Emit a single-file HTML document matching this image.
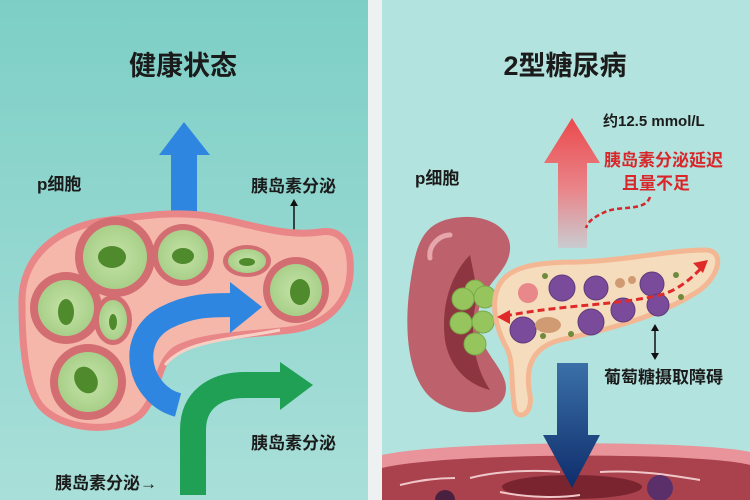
<!DOCTYPE html>
<html><head><meta charset="utf-8"><style>
html,body{margin:0;padding:0;width:750px;height:500px;overflow:hidden;background:#f0f3f3}
svg{display:block}
text{font-family:"Liberation Sans","Noto Sans CJK SC",sans-serif;font-weight:bold}
</style></head><body>
<svg width="750" height="500" viewBox="0 0 750 500" xmlns="http://www.w3.org/2000/svg">
<defs>
<linearGradient id="lbg" x1="0" y1="0" x2="0" y2="1"><stop offset="0" stop-color="#7dcfc6"/><stop offset="1" stop-color="#a9dfd9"/></linearGradient>
<linearGradient id="red" x1="0" y1="0" x2="0" y2="1"><stop offset="0" stop-color="#ea4a4d"/><stop offset="0.55" stop-color="#e9858a"/><stop offset="1" stop-color="#c9ccd0"/></linearGradient>
<linearGradient id="blue" x1="0" y1="0" x2="0" y2="1"><stop offset="0" stop-color="#3b70a8"/><stop offset="1" stop-color="#0e2d6b"/></linearGradient>
<radialGradient id="cell"><stop offset="0" stop-color="#c6e2a6"/><stop offset="1" stop-color="#a8d08a"/></radialGradient>
</defs>
<!-- backgrounds -->
<rect x="0" y="0" width="368" height="500" fill="url(#lbg)"/>
<rect x="368" y="0" width="14" height="500" fill="#eef1f1"/>
<rect x="382" y="0" width="368" height="500" fill="#b3e3de"/>

<!-- LEFT -->
<text x="183" y="75" font-size="27" text-anchor="middle" fill="#1b1b1b">健康状态</text>
<polygon points="184,122 210,155 197,155 197,215 171,215 171,155 159,155" fill="#2f86e0"/>
<text x="37" y="190" font-size="17" fill="#1b1b1b">p细胞</text>
<text x="251" y="192" font-size="17" fill="#1b1b1b">胰岛素分泌</text>
<line x1="294" y1="203" x2="294" y2="236" stroke="#111" stroke-width="1.5"/>
<polygon points="294,199 290,206 298,206" fill="#111"/><polygon points="294,240 290,233 298,233" fill="#111"/>

<path d="M22,305 C20,255 60,225 110,220 C150,215 170,212 200,215 C240,220 280,238 320,232 C345,228 352,250 350,275 C348,300 330,325 290,330 C250,335 200,335 175,350 C155,365 160,395 140,415 C115,435 60,430 40,405 C25,385 22,340 22,305 Z" fill="#f4b7aa" stroke="#e98688" stroke-width="7"/>
<path d="M165,365 C185,340 230,340 280,330" fill="none" stroke="#f7d0c5" stroke-width="3"/>
<g>
<circle cx="115" cy="257" r="40" fill="#d26e72"/><circle cx="115" cy="257" r="32" fill="url(#cell)"/><ellipse cx="112" cy="257" rx="14" ry="11" fill="#4f8a2c"/>
<circle cx="183" cy="255" r="31" fill="#d26e72"/><circle cx="183" cy="255" r="25" fill="url(#cell)"/><ellipse cx="183" cy="256" rx="11" ry="8" fill="#4f8a2c"/>
<ellipse cx="247" cy="261" rx="24" ry="16" fill="#d26e72"/><ellipse cx="247" cy="261" rx="19" ry="12" fill="url(#cell)"/><ellipse cx="247" cy="262" rx="8" ry="4" fill="#4f8a2c"/>
<circle cx="296" cy="290" r="33" fill="#d26e72"/><circle cx="296" cy="290" r="26" fill="url(#cell)"/><ellipse cx="300" cy="292" rx="10" ry="13" fill="#4f8a2c"/>
<circle cx="66" cy="308" r="36" fill="#d26e72"/><circle cx="66" cy="308" r="28" fill="url(#cell)"/><ellipse cx="66" cy="312" rx="8" ry="13" fill="#4f8a2c"/>
<ellipse cx="113" cy="320" rx="19" ry="25" fill="#d26e72"/><ellipse cx="113" cy="320" rx="14" ry="20" fill="url(#cell)"/><ellipse cx="113" cy="322" rx="4" ry="8" fill="#4f8a2c"/>
<circle cx="88" cy="382" r="38" fill="#d26e72"/><circle cx="88" cy="382" r="30" fill="url(#cell)"/><ellipse cx="86" cy="380" rx="11" ry="14" fill="#4f8a2c" transform="rotate(-30 86 380)"/>
</g>
<!-- blue curved arrow -->
<path d="M178,405 C140,395 125,340 165,318 C190,305 210,305 235,305" fill="none" stroke="#2f86e0" stroke-width="24"/>
<polygon points="262,307 230,282 230,333" fill="#2f86e0"/>
<!-- green arrow -->
<path d="M193,495 L193,430 C193,400 215,385 245,385 L285,385" fill="none" stroke="#1fa055" stroke-width="26"/>
<polygon points="313,385 280,362 280,410" fill="#1fa055"/>
<text x="251" y="449" font-size="17" fill="#1b1b1b">胰岛素分泌</text>
<text x="55" y="489" font-size="17" fill="#1b1b1b">胰岛素分泌→</text>

<!-- RIGHT -->
<text x="565" y="75" font-size="27" text-anchor="middle" fill="#1b1b1b">2型糖尿病</text>
<text x="603" y="126" font-size="15" fill="#1b1b1b">约12.5 mmol/L</text>
<polygon points="572,118 600,163 587,163 587,248 558,248 558,163 544,163" fill="url(#red)"/>
<text x="604" y="166" font-size="17" fill="#d8262b">胰岛素分泌延迟</text>
<text x="622" y="189" font-size="17" fill="#d8262b">且量不足</text>
<path d="M650,197 C645,212 620,205 605,212 C592,218 588,222 586,228" fill="none" stroke="#d8262b" stroke-width="2.5" stroke-dasharray="5,3"/>
<text x="415" y="184" font-size="17" fill="#1b1b1b">p细胞</text>

<!-- kidney -->
<path d="M445,220 C480,210 512,225 510,250 C508,275 478,285 478,320 C478,355 512,370 505,395 C498,418 450,418 428,395 C405,370 405,320 410,285 C415,250 420,228 445,220 Z" fill="#bd626c"/>
<path d="M470,255 C455,270 440,300 445,340 C450,370 470,385 490,390 C470,360 470,320 478,295 Z" fill="#8d3540"/>
<path d="M430,258 C428,245 440,235 450,235" stroke="#e7a5ac" stroke-width="5" fill="none" stroke-linecap="round"/>
<g fill="#95c55c" stroke="#7aa948" stroke-width="1">
<circle cx="475" cy="290" r="10"/><circle cx="463" cy="299" r="11"/><circle cx="485" cy="297" r="11"/><circle cx="461" cy="323" r="11"/><circle cx="483" cy="322" r="11"/><circle cx="475" cy="344" r="11"/>
</g>
<!-- right pancreas -->
<path d="M497,290 C505,265 540,262 580,262 C630,260 670,250 705,250 C725,250 720,275 700,290 C670,310 630,325 560,340 C530,348 525,370 530,395 C533,415 518,420 515,410 C510,385 515,360 505,345 C495,325 492,305 497,290 Z" fill="#f5dcbc" stroke="#f3b893" stroke-width="5"/>
<g fill="#7a4b9a" stroke="#5e3a7a">
<circle cx="562" cy="288" r="13"/><circle cx="596" cy="288" r="12"/><circle cx="652" cy="284" r="12"/><circle cx="658" cy="305" r="11"/><circle cx="623" cy="310" r="12"/><circle cx="591" cy="322" r="13"/><circle cx="523" cy="330" r="13"/>
</g>
<circle cx="528" cy="293" r="10" fill="#e8888a"/>
<ellipse cx="548" cy="325" rx="13" ry="8" fill="#d09a72"/>
<circle cx="620" cy="283" r="5" fill="#d09a72"/><circle cx="632" cy="280" r="4" fill="#d09a72"/>
<g fill="#6f8a3a"><circle cx="545" cy="276" r="3"/><circle cx="676" cy="275" r="3"/><circle cx="681" cy="297" r="3"/><circle cx="543" cy="336" r="3"/><circle cx="571" cy="334" r="3"/></g>
<path d="M505,316 C560,305 620,305 660,295 C680,290 695,275 705,264" fill="none" stroke="#e02a2a" stroke-width="3" stroke-dasharray="7,4"/>
<polygon points="497,317 510,310 510,324" fill="#e02a2a"/><polygon points="708,260 693,263 703,273" fill="#e02a2a"/>
<line x1="655" y1="328" x2="655" y2="355" stroke="#111" stroke-width="1.5"/>
<polygon points="655,324 651,331 659,331" fill="#111"/><polygon points="655,360 651,353 659,353" fill="#111"/>
<text x="604" y="383" font-size="17" fill="#1b1b1b">葡萄糖摄取障碍</text>

<!-- bottom tissue -->
<path d="M382,455 C450,440 700,440 750,452 L750,500 L382,500 Z" fill="#e8949a"/>
<path d="M382,468 C450,452 700,452 750,465 L750,500 L382,500 Z" fill="#a9424d"/>
<ellipse cx="572" cy="487" rx="70" ry="12" fill="#7a2430"/>
<g fill="none" stroke="#f0c7c9" stroke-width="2"><path d="M470,478 C500,470 540,470 560,472"/><path d="M600,472 C640,470 670,475 700,480"/><path d="M500,492 C530,498 560,498 580,495"/><path d="M400,485 C420,480 440,478 455,478"/></g>
<circle cx="660" cy="488" r="13" fill="#5b2f6a"/>
<circle cx="445" cy="500" r="10" fill="#4a2040"/>
<polygon points="557,363 588,363 588,435 600,435 572,488 543,435 557,435" fill="url(#blue)"/>
</svg>
</body></html>
